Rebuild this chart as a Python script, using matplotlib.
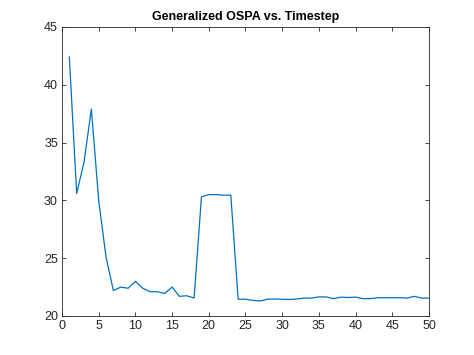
import matplotlib
matplotlib.use("Agg")
import matplotlib.pyplot as plt

timesteps = list(range(1, 51))
ospa = [42.4, 30.6, 33.3, 37.9, 30.0, 25.1, 22.2, 22.5, 22.4, 23.0,
        22.4, 22.1, 22.1, 21.95, 22.5, 21.7, 21.75, 21.55, 30.3, 30.5,
        30.5, 30.45, 30.45, 21.45, 21.45, 21.35, 21.3, 21.45, 21.47, 21.45,
        21.43, 21.47, 21.55, 21.55, 21.65, 21.65, 21.5, 21.63, 21.6, 21.63,
        21.5, 21.5, 21.58, 21.58, 21.58, 21.58, 21.55, 21.7, 21.55, 21.55]

xticks = list(range(0, 51, 5))
yticks = [20, 25, 30, 35, 40, 45]

plt.rcParams['font.family'] = ['Liberation Sans', 'DejaVu Sans']
fig = plt.figure(figsize=(4.74, 3.55), dpi=100)
ax = fig.add_axes([0.1308, 0.1099, 0.7742, 0.8141])
ax.plot(timesteps, ospa, color='#0072BD', linewidth=0.9)
ax.set_xlim(0, 50)
ax.set_ylim(20, 45)
ax.set_xticks(xticks)
ax.set_yticks(yticks)
axc = '#262626'
for s in ax.spines.values():
    s.set_color(axc)
    s.set_linewidth(0.6)
ax.tick_params(direction='in', length=3, width=0.6, colors=axc, labelsize=9,
               top=True, right=True, labeltop=False, labelright=False, pad=3)
ax.set_title('Generalized OSPA vs. Timestep', fontsize=9, fontweight='bold', color='black', pad=5)
fig.savefig('out.png', dpi=100)
